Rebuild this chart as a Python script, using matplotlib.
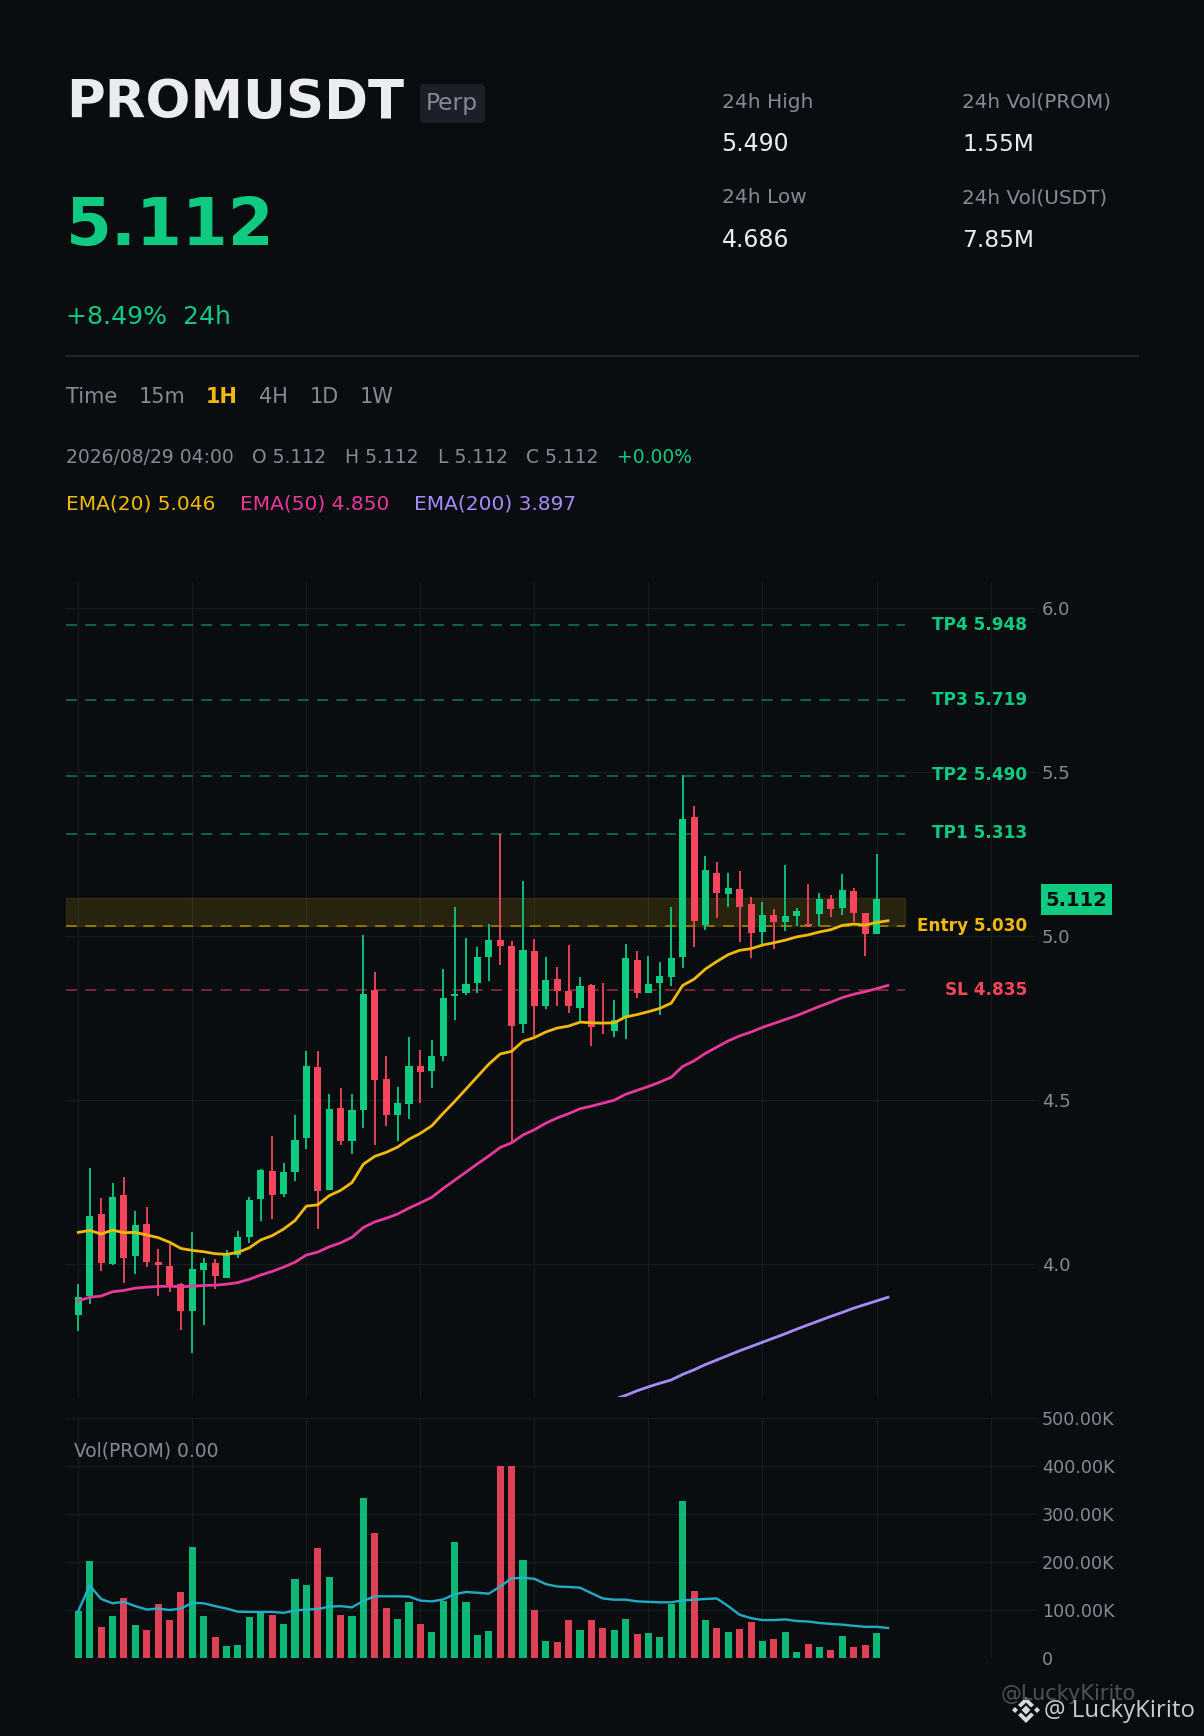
import matplotlib
matplotlib.use("Agg")
import matplotlib.pyplot as plt
import numpy as np
from matplotlib.patches import FancyBboxPatch, Polygon, Rectangle
from matplotlib.transforms import Affine2D

W, H = 1204, 1736
BG = "#0A0D10"
GRID = "#171B22"
GRAY = "#848A96"
GREEN = "#0ECB81"
RED = "#F6465D"
YELLOW = "#F0B90B"
PINK = "#E6399B"
PURPLE = "#A78BFA"
CYAN = "#22B5D0"
WHITE = "#EAECEF"

opens = [3.846, 3.903, 4.153, 4.001, 4.211, 4.025, 4.123, 4.007, 3.995, 3.940,
         3.858, 3.983, 4.004, 3.958, 4.028, 4.083, 4.199, 4.285, 4.214, 4.282,
         4.385, 4.602, 4.227, 4.477, 4.376, 4.471, 4.836, 4.565, 4.455, 4.489,
         4.605, 4.589, 4.635, 4.818, 4.827, 4.858, 4.937, 4.989, 4.971, 4.733,
         4.955, 4.788, 4.870, 4.833, 4.781, 4.852, 4.738, 4.711, 4.751, 4.928,
         4.827, 4.858, 4.876, 4.937, 5.364, 5.035, 5.193, 5.129, 5.144, 5.099,
         5.013, 5.065, 5.044, 5.062, 5.036, 5.068, 5.114, 5.086, 5.138, 5.071,
         5.007, 5.112]
closes = [3.900, 4.147, 4.004, 4.205, 4.019, 4.120, 4.007, 3.998, 3.934, 3.858,
          3.986, 4.004, 3.964, 4.032, 4.083, 4.196, 4.288, 4.211, 4.282, 4.379,
          4.605, 4.224, 4.474, 4.376, 4.471, 4.825, 4.562, 4.455, 4.492, 4.605,
          4.586, 4.635, 4.812, 4.824, 4.855, 4.937, 4.989, 4.971, 4.727, 4.958,
          4.788, 4.867, 4.833, 4.788, 4.849, 4.724, 4.734, 4.745, 4.934, 4.827,
          4.855, 4.879, 4.934, 5.358, 5.047, 5.202, 5.132, 5.147, 5.089, 5.010,
          5.065, 5.044, 5.062, 5.077, 5.032, 5.114, 5.083, 5.141, 5.071, 5.007,
          5.112, 5.112]
highs = [3.940, 4.294, 4.202, 4.248, 4.266, 4.163, 4.175, 4.047, 4.062, 3.943,
         4.099, 4.019, 4.016, 4.044, 4.102, 4.205, 4.291, 4.391, 4.309, 4.455,
         4.650, 4.650, 4.519, 4.538, 4.519, 5.003, 4.890, 4.635, 4.541, 4.693,
         4.653, 4.684, 4.900, 5.089, 4.995, 4.967, 5.038, 5.312, 4.986, 5.169,
         4.992, 4.937, 4.906, 4.974, 4.876, 4.855, 4.858, 4.806, 4.977, 4.955,
         4.940, 4.922, 5.089, 5.492, 5.397, 5.245, 5.227, 5.193, 5.199, 5.120,
         5.105, 5.083, 5.217, 5.086, 5.160, 5.132, 5.126, 5.190, 5.147, 5.071,
         5.251, 5.112]
lows = [3.797, 3.879, 3.980, 3.998, 3.943, 3.971, 3.992, 3.903, 3.916, 3.800,
        3.730, 3.815, 3.925, 3.958, 4.019, 4.065, 4.132, 4.138, 4.205, 4.254,
        4.352, 4.108, 4.227, 4.364, 4.336, 4.416, 4.364, 4.422, 4.376, 4.443,
        4.492, 4.538, 4.620, 4.745, 4.821, 4.827, 4.864, 4.913, 4.373, 4.705,
        4.693, 4.778, 4.788, 4.766, 4.739, 4.666, 4.702, 4.693, 4.687, 4.812,
        4.827, 4.760, 4.849, 4.903, 4.967, 5.019, 5.056, 5.089, 4.983, 4.934,
        4.974, 4.961, 5.016, 5.032, 5.032, 5.032, 5.059, 5.065, 5.044, 4.940,
        5.007, 5.112]

ema20 = [4.097, 4.103, 4.092, 4.104, 4.096, 4.097, 4.089, 4.081, 4.067, 4.048,
         4.042, 4.038, 4.032, 4.030, 4.036, 4.050, 4.074, 4.087, 4.107, 4.133,
         4.177, 4.181, 4.209, 4.225, 4.249, 4.305, 4.329, 4.341, 4.357, 4.381,
         4.399, 4.422, 4.460, 4.496, 4.534, 4.572, 4.610, 4.641, 4.649, 4.680,
         4.691, 4.708, 4.720, 4.726, 4.738, 4.736, 4.735, 4.736, 4.754, 4.761,
         4.770, 4.780, 4.796, 4.850, 4.869, 4.900, 4.923, 4.944, 4.957, 4.962,
         4.973, 4.980, 4.988, 4.998, 5.004, 5.013, 5.020, 5.033, 5.037, 5.034,
         5.042, 5.047]
ema50 = [3.888, 3.899, 3.903, 3.916, 3.920, 3.927, 3.930, 3.932, 3.933, 3.931,
         3.933, 3.935, 3.936, 3.939, 3.944, 3.954, 3.967, 3.978, 3.991, 4.006,
         4.028, 4.037, 4.053, 4.065, 4.082, 4.112, 4.129, 4.140, 4.153, 4.171,
         4.187, 4.204, 4.231, 4.256, 4.281, 4.306, 4.330, 4.356, 4.370, 4.394,
         4.410, 4.430, 4.446, 4.459, 4.474, 4.482, 4.491, 4.500, 4.518, 4.530,
         4.542, 4.555, 4.570, 4.603, 4.620, 4.643, 4.662, 4.681, 4.696, 4.708,
         4.722, 4.734, 4.746, 4.758, 4.772, 4.786, 4.799, 4.813, 4.823, 4.831,
         4.840, 4.850]
# only the visible end of the EMA(200), from candle 47 on
ema200_start = 47
ema200 = [3.588, 3.600, 3.614, 3.626, 3.637, 3.647, 3.664, 3.678, 3.694, 3.708,
          3.722, 3.736, 3.749, 3.762, 3.775, 3.788, 3.802, 3.815, 3.828, 3.841,
          3.853, 3.866, 3.877, 3.888, 3.899]

volumes = [98, 202, 65, 87.5, 125, 69, 58, 112.5, 79, 137.5,
           231, 87.5, 44, 25, 27, 85, 96, 90, 71, 165,
           152, 229, 169, 90, 87.5, 333, 260, 104, 81, 117,
           71, 54, 119, 242, 117, 48, 56, 400, 400, 204,
           100, 35, 33, 79, 58, 79, 62.5, 58, 81, 50,
           52, 44, 112.5, 327, 140, 79, 62.5, 54, 60, 75,
           35, 40, 54, 12.5, 29, 23, 17, 46, 23, 27,
           52, 0]
vol_ma = [98, 151, 123, 114, 117, 108, 101, 103, 100, 103,
          115, 114, 108, 103, 96.5, 96, 96, 96, 94, 99,
          101, 102, 107, 108, 105.5, 119, 128.5, 128.5, 128.5, 128,
          119.5, 118, 122, 133, 137.5, 136, 134, 149, 166, 167,
          165, 154, 149, 148, 146.5, 135, 124, 121.5, 121.5, 118,
          117, 116, 116, 120, 121.5, 123, 124, 108, 90, 83,
          79, 79, 80.5, 77, 76, 73, 71, 69.5, 67, 65,
          65, 62.5]

tp_names = ["TP4", "TP3", "TP2", "TP1"]
tp_levels = [5.948, 5.719, 5.490, 5.313]
entry_level = 5.030
entry_top = 5.116
sl_level = 4.835
last_price = 5.112

price_ticks = [4.0, 4.5, 5.0, 5.5, 6.0]
vol_ticks = [0, 100, 200, 300, 400, 500]
vol_tick_labels = ["0", "100.00K", "200.00K", "300.00K", "400.00K", "500.00K"]
x_grid = np.arange(0, 81, 10)
levels_end = 72.5

plt.rcParams["font.family"] = "DejaVu Sans"
fig = plt.figure(figsize=(W / 100, H / 100), dpi=100, facecolor=BG)
px = Affine2D().scale(1 / W, -1 / H).translate(0, 1) + fig.transFigure


def txt(x, y, s, size, color, **kw):
    # header texts are placed in reference pixels, y is the baseline
    fig.text(x / W, 1 - y / H, s, fontsize=size, color=color, va="baseline", zorder=5, **kw)


def make_axes(top, bottom):
    ax = fig.add_axes([66 / W, 1 - bottom / H, (1035 - 66) / W, (bottom - top) / H], facecolor=BG)
    ax.set_xlim(-1.08, 83.9)
    for s in ax.spines.values():
        s.set_visible(False)
    ax.yaxis.tick_right()
    ax.tick_params(axis="y", length=0, pad=5, labelcolor=GRAY)
    ax.tick_params(axis="x", length=0, labelbottom=False)
    ax.set_xticks(x_grid)
    ax.grid(True, color=GRID, lw=0.85)
    ax.set_axisbelow(True)
    return ax


# price panel
ax = make_axes(582, 1396.7)
ax.set_ylim(3.596, 6.080)
ax.set_yticks(price_ticks)
ax.set_yticklabels([f"{v:.1f}" for v in price_ticks], fontsize=13)

x = np.arange(len(opens))
o, c, h, l = map(np.array, (opens, closes, highs, lows))
colors = [GREEN if b >= a else RED for a, b in zip(o, c)]

dash = (0, (6.1, 4.6))
for level in tp_levels:
    ax.plot([-1.08, levels_end], [level, level], color=GREEN, alpha=0.5, lw=1.3, ls=dash, zorder=1)
ax.plot([-1.08, levels_end], [sl_level, sl_level], color=RED, alpha=0.5, lw=1.3, ls=dash, zorder=1)
ax.plot([-1.08, levels_end], [entry_level, entry_level], color=YELLOW, alpha=0.55, lw=1.3, ls=dash, zorder=1)
ax.fill_between([-1.08, levels_end], entry_level, entry_top, color=YELLOW, alpha=0.13, lw=1, zorder=1)

ax.vlines(x, l, h, colors=colors, lw=1.4, alpha=0.92, zorder=2)
ax.bar(x, np.abs(c - o), bottom=np.minimum(o, c), width=0.62, color=colors, lw=0, zorder=3)

ax.plot(x, ema20, color=YELLOW, lw=2, zorder=4)
ax.plot(x, ema50, color=PINK, lw=2, zorder=4)
ax.plot(np.arange(ema200_start, len(opens)), ema200, color=PURPLE, lw=2, zorder=4)


def level_label(level, s, color):
    ax.annotate(s, (83.2, level), xytext=(0, -3.2), textcoords="offset points", ha="right",
                va="baseline", fontsize=12.2, fontweight="bold", color=color, zorder=6)


for name, level in zip(tp_names, tp_levels):
    level_label(level, f"{name} {level:.3f}", GREEN)
level_label(entry_level, f"Entry {entry_level:.3f}", YELLOW)
level_label(sl_level, f"SL {sl_level:.3f}", RED)

# volume panel
vax = make_axes(1418, 1658)
vax.set_ylim(0, 500)
vax.set_yticks(vol_ticks)
vax.set_yticklabels(vol_tick_labels, fontsize=12.6)
vax.bar(x, volumes, width=0.62, color=colors, alpha=0.9, lw=0, zorder=2)
vax.plot(x, vol_ma, color=CYAN, lw=1.7, alpha=0.95, zorder=3)

# header
txt(66, 118.3, "PROMUSDT", 38.1, WHITE, fontweight="bold")
fig.add_artist(FancyBboxPatch((423, 87), 59, 33, boxstyle="round,pad=3,rounding_size=5",
                              fc="#1B1F27", ec="none", transform=px, zorder=4))
txt(426, 110, "Perp", 16.8, GRAY)
txt(66, 245, "5.112", 47.5, GREEN, fontweight="bold")
txt(66, 324, "+8.49%  24h", 18.1, GREEN)
fig.add_artist(Rectangle((65, 354.8), 1074, 2, fc="#20252E", ec="none", transform=px, zorder=4))

txt(721.5, 107.7, "24h High", 14.5, GRAY)
txt(721.5, 151, "5.490", 17, WHITE)
txt(721.5, 203.3, "24h Low", 14.5, GRAY)
txt(721.5, 246.7, "4.686", 17, WHITE)
txt(962.5, 107.7, "24h Vol(PROM)", 14.4, GRAY)
txt(962.5, 151, "1.55M", 16.8, WHITE)
txt(962.5, 203.3, "24h Vol(USDT)", 14.4, GRAY)
txt(962.5, 246.7, "7.85M", 16.8, WHITE)

for s, sx in zip(["Time", "15m", "4H", "1D", "1W"], [66, 138.5, 259, 310, 359.5]):
    txt(sx, 403, s, 15, GRAY)
txt(206, 403, "1H", 15, YELLOW, fontweight="bold")

txt(66.5, 462.7, "2026/08/29 04:00", 13.5, GRAY)
for s, sx in zip(["O 5.112", "H 5.112", "L 5.112", "C 5.112"], [252.5, 345, 437.5, 526]):
    txt(sx, 462.7, s, 13.5, GRAY)
txt(617, 462.7, "+0.00%", 13.5, GREEN)

txt(66.5, 510, "EMA(20) 5.046", 14.5, YELLOW)
txt(240.5, 510, "EMA(50) 4.850", 14.5, PINK)
txt(414.5, 510, "EMA(200) 3.897", 14.5, PURPLE)

# last price tag
fig.add_artist(Rectangle((1041, 884), 71, 31, fc=GREEN, ec="none", transform=px, zorder=4))
fig.text(1076 / W, 1 - 906 / H, f"{last_price:.3f}", fontsize=14, fontweight="bold",
         color="#0A0D10", ha="center", va="baseline", zorder=5)

txt(74, 1456.5, "Vol(PROM) 0.00", 13.4, GRAY)

# watermarks
txt(1001, 1700, "@LuckyKirito", 15, "#4C5058")
txt(1044, 1717, "@ LuckyKirito", 17.3, "#C9CBCE", family="Open Sans")
logo = "#D9DADC"
cx, cy = 1026, 1710
shapes = [
    [(cx, cy - 4.5), (cx + 4.5, cy), (cx, cy + 4.5), (cx - 4.5, cy)],
    [(cx - 11, cy - 3), (cx - 8, cy), (cx - 11, cy + 3), (cx - 14, cy)],
    [(cx + 11, cy - 3), (cx + 14, cy), (cx + 11, cy + 3), (cx + 8, cy)],
    [(cx, cy - 13), (cx + 8, cy - 5), (cx + 5, cy - 2.5), (cx, cy - 7.5), (cx - 5, cy - 2.5), (cx - 8, cy - 5)],
    [(cx, cy + 13), (cx + 8, cy + 5), (cx + 5, cy + 2.5), (cx, cy + 7.5), (cx - 5, cy + 2.5), (cx - 8, cy + 5)],
]
for pts in shapes:
    fig.add_artist(Polygon(pts, closed=True, fc=logo, ec="none", transform=px, zorder=5))

fig.savefig("out.png", dpi=100, facecolor=BG)
